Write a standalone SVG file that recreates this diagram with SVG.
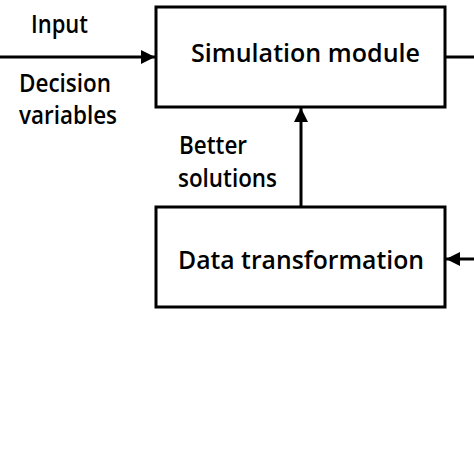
<svg xmlns="http://www.w3.org/2000/svg" width="474" height="474" viewBox="0 0 474 474">
<style>
.box{fill:#fff;stroke:#000;stroke-width:3}
.ln{stroke:#000;stroke-width:3;fill:none}
text{font-family:"Open Sans","Noto Sans",sans-serif;font-size:24.5px;font-weight:600;fill:#000}
</style>
<defs>
<marker id="ah" viewBox="0 0 10 10" refX="10" refY="5" markerWidth="15" markerHeight="14" markerUnits="userSpaceOnUse" orient="auto">
<path d="M0,0 L10,5 L0,10 Z" fill="#000"/>
</marker>
</defs>
<rect width="474" height="474" fill="#fff"/>
<g id="connectors">
<line class="ln" x1="0" y1="57" x2="155" y2="57" marker-end="url(#ah)"/>
<line class="ln" x1="445" y1="57" x2="474" y2="57"/>
<line class="ln" x1="301" y1="207" x2="301" y2="108" marker-end="url(#ah)"/>
<line class="ln" x1="474" y1="259" x2="446" y2="259" marker-end="url(#ah)"/>
</g>
<g id="simulation">
<rect class="box" x="156" y="7" width="289" height="100"/>
<text x="191" y="62" textLength="229" lengthAdjust="spacingAndGlyphs">Simulation module</text>
</g>
<g id="transformation">
<rect class="box" x="156" y="207" width="289" height="100"/>
<text x="178" y="269" textLength="246" lengthAdjust="spacingAndGlyphs">Data transformation</text>
</g>
<g id="labels">
<text x="31" y="33" textLength="57" lengthAdjust="spacingAndGlyphs">Input</text>
<text x="19" y="92" textLength="92" lengthAdjust="spacingAndGlyphs">Decision</text>
<text x="19" y="124" textLength="98" lengthAdjust="spacingAndGlyphs">variables</text>
<text x="179" y="154" textLength="68" lengthAdjust="spacingAndGlyphs">Better</text>
<text x="178" y="187" textLength="99" lengthAdjust="spacingAndGlyphs">solutions</text>
</g>
</svg>
